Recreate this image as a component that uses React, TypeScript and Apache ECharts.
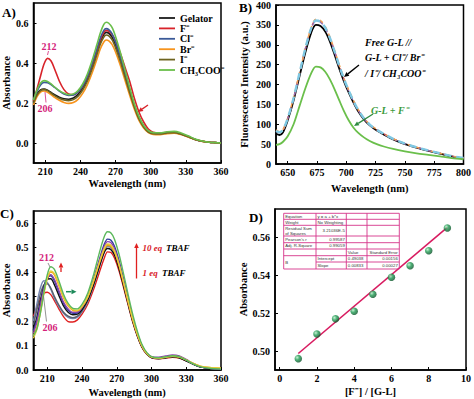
import React, { useEffect, useRef } from 'react';
import * as echarts from 'echarts';

const SERIF = "'Liberation Serif', 'Times New Roman', serif";

// ---------- Panel A: UV-vis, gelator + anions ----------
const wlA = [200, 203, 206, 209, 212, 215, 218, 222, 226, 230, 234, 238, 242, 246, 250, 254, 257, 260, 262, 264, 267, 270, 274, 278, 282, 286, 290, 294, 298, 302, 308, 314, 320, 326, 332, 338, 344, 350, 355, 360];
const aGelator = [0.205, 0.245, 0.266, 0.27, 0.264, 0.253, 0.241, 0.229, 0.221, 0.219, 0.225, 0.243, 0.275, 0.32, 0.38, 0.45, 0.505, 0.543, 0.553, 0.55, 0.53, 0.49, 0.42, 0.34, 0.26, 0.185, 0.125, 0.083, 0.058, 0.048, 0.047, 0.052, 0.053, 0.045, 0.032, 0.018, 0.009, 0.004, 0.002, 0.0];
const aF = [0.21, 0.27, 0.335, 0.395, 0.423, 0.41, 0.37, 0.31, 0.267, 0.245, 0.242, 0.255, 0.285, 0.33, 0.39, 0.46, 0.515, 0.553, 0.563, 0.56, 0.543, 0.51, 0.45, 0.38, 0.31, 0.225, 0.155, 0.105, 0.07, 0.054, 0.05, 0.053, 0.053, 0.045, 0.032, 0.018, 0.009, 0.004, 0.002, 0.0];
const aCl = [0.215, 0.258, 0.29, 0.303, 0.302, 0.292, 0.278, 0.26, 0.245, 0.238, 0.24, 0.255, 0.285, 0.332, 0.395, 0.468, 0.525, 0.563, 0.572, 0.568, 0.547, 0.505, 0.432, 0.35, 0.266, 0.188, 0.127, 0.084, 0.058, 0.048, 0.047, 0.052, 0.053, 0.045, 0.032, 0.018, 0.009, 0.004, 0.002, 0.0];
const aBr = [0.19, 0.232, 0.255, 0.26, 0.254, 0.242, 0.228, 0.214, 0.203, 0.198, 0.202, 0.218, 0.248, 0.292, 0.35, 0.417, 0.47, 0.505, 0.515, 0.512, 0.493, 0.455, 0.39, 0.315, 0.24, 0.17, 0.113, 0.075, 0.052, 0.043, 0.042, 0.047, 0.049, 0.042, 0.03, 0.017, 0.008, 0.004, 0.002, 0.0];
const aI = [0.2, 0.24, 0.262, 0.267, 0.262, 0.25, 0.237, 0.224, 0.215, 0.212, 0.217, 0.234, 0.265, 0.31, 0.37, 0.44, 0.494, 0.53, 0.54, 0.537, 0.517, 0.477, 0.41, 0.332, 0.254, 0.18, 0.12, 0.08, 0.055, 0.046, 0.045, 0.05, 0.052, 0.044, 0.031, 0.018, 0.009, 0.004, 0.002, 0.0];
const aAc = [0.215, 0.265, 0.3, 0.312, 0.308, 0.296, 0.28, 0.262, 0.249, 0.242, 0.245, 0.262, 0.295, 0.345, 0.412, 0.49, 0.55, 0.593, 0.604, 0.6, 0.578, 0.533, 0.455, 0.368, 0.28, 0.198, 0.133, 0.088, 0.062, 0.052, 0.051, 0.056, 0.058, 0.05, 0.036, 0.02, 0.01, 0.004, 0.002, 0.0];
const aNames = ['Gelator', 'F⁻', 'Cl⁻', 'Br⁻', 'I⁻', 'CH₃COO⁻'];
const aColors = ['#1a1a1a', '#d8232a', '#3b5a98', '#f7941d', '#6e6420', '#6abf4b'];
const aSeries = [aGelator, aF, aCl, aBr, aI, aAc];

// ---------- Panel B: fluorescence ----------
const wlB = [640, 643, 646, 650, 655, 660, 665, 670, 674, 678, 682, 686, 690, 694, 698, 702, 706, 710, 715, 720, 726, 732, 740, 750, 760, 770, 780, 790, 800];
const bFree = [76, 73, 80, 110, 160, 220, 280, 330, 350, 347, 333, 308, 275, 240, 208, 180, 155, 133, 112, 97, 84, 74, 62, 50, 41, 33, 26, 19, 14];
const bCl = [84, 80, 86, 115, 166, 228, 290, 342, 362, 359, 344, 318, 284, 248, 214, 185, 159, 136, 115, 99, 86, 76, 63, 51, 42, 34, 27, 20, 15];
const bBr = [82, 79, 85, 114, 165, 227, 289, 340, 360, 357, 342, 316, 282, 246, 213, 184, 158, 136, 114, 99, 86, 75, 63, 51, 42, 34, 27, 20, 15];
const bI = [86, 81, 87, 116, 167, 229, 291, 343, 364, 361, 346, 320, 286, 250, 216, 187, 161, 138, 116, 100, 87, 76, 64, 52, 42, 34, 27, 20, 15];
const bAc = [83, 80, 86, 115, 166, 228, 290, 341, 361, 358, 343, 317, 283, 247, 214, 185, 159, 137, 115, 99, 86, 76, 63, 51, 42, 34, 27, 20, 15];
const bF = [48, 50, 56, 70, 100, 145, 190, 228, 245, 243, 232, 213, 188, 160, 133, 110, 92, 79, 67, 58, 50, 44, 38, 32, 27, 23, 19, 15, 12];

// ---------- Panel C: titration with TBAF ----------
const wlC = [198, 201, 204, 207, 210, 213, 216, 220, 224, 228, 232, 236, 240, 245, 250, 255, 259, 262, 265, 268, 272, 276, 280, 284, 288, 292, 296, 300, 306, 312, 318, 324, 330, 336, 342, 350, 360];
const c1 = [0.22, 0.255, 0.29, 0.313, 0.318, 0.308, 0.285, 0.25, 0.218, 0.198, 0.196, 0.205, 0.228, 0.27, 0.33, 0.4, 0.455, 0.483, 0.48, 0.458, 0.405, 0.335, 0.262, 0.192, 0.135, 0.09, 0.064, 0.05, 0.046, 0.048, 0.052, 0.049, 0.037, 0.024, 0.013, 0.007, 0.004];
const c2 = [0.2, 0.27, 0.335, 0.365, 0.358, 0.33, 0.295, 0.26, 0.232, 0.215, 0.21, 0.216, 0.238, 0.28, 0.345, 0.42, 0.478, 0.505, 0.5, 0.477, 0.42, 0.347, 0.27, 0.198, 0.138, 0.092, 0.065, 0.051, 0.047, 0.05, 0.055, 0.051, 0.038, 0.024, 0.013, 0.007, 0.004];
const c3 = [0.185, 0.245, 0.31, 0.348, 0.352, 0.335, 0.302, 0.265, 0.236, 0.22, 0.214, 0.22, 0.242, 0.285, 0.35, 0.425, 0.485, 0.512, 0.507, 0.484, 0.426, 0.352, 0.274, 0.2, 0.14, 0.093, 0.066, 0.052, 0.047, 0.05, 0.055, 0.051, 0.038, 0.024, 0.013, 0.007, 0.004];
const c4 = [0.165, 0.215, 0.28, 0.34, 0.372, 0.373, 0.35, 0.305, 0.262, 0.236, 0.226, 0.228, 0.247, 0.288, 0.35, 0.425, 0.48, 0.497, 0.492, 0.47, 0.414, 0.342, 0.267, 0.196, 0.137, 0.092, 0.065, 0.051, 0.047, 0.05, 0.054, 0.05, 0.037, 0.024, 0.013, 0.007, 0.004];
const c5 = [0.16, 0.205, 0.27, 0.335, 0.375, 0.385, 0.365, 0.318, 0.272, 0.244, 0.232, 0.234, 0.255, 0.3, 0.37, 0.452, 0.512, 0.535, 0.53, 0.506, 0.446, 0.368, 0.287, 0.21, 0.146, 0.097, 0.068, 0.053, 0.049, 0.053, 0.058, 0.054, 0.04, 0.025, 0.014, 0.007, 0.004];
const c6 = [0.15, 0.195, 0.262, 0.33, 0.375, 0.39, 0.372, 0.325, 0.278, 0.25, 0.236, 0.237, 0.256, 0.3, 0.368, 0.447, 0.503, 0.525, 0.52, 0.496, 0.438, 0.361, 0.282, 0.207, 0.145, 0.097, 0.069, 0.055, 0.052, 0.057, 0.062, 0.058, 0.043, 0.027, 0.015, 0.008, 0.004];
const c7 = [0.14, 0.175, 0.24, 0.315, 0.375, 0.4, 0.39, 0.345, 0.295, 0.262, 0.244, 0.242, 0.258, 0.298, 0.362, 0.437, 0.49, 0.51, 0.505, 0.482, 0.426, 0.352, 0.275, 0.202, 0.142, 0.095, 0.067, 0.053, 0.049, 0.052, 0.056, 0.053, 0.041, 0.027, 0.016, 0.01, 0.007];
const c8 = [0.13, 0.165, 0.232, 0.31, 0.375, 0.405, 0.395, 0.35, 0.3, 0.266, 0.247, 0.244, 0.26, 0.3, 0.365, 0.44, 0.495, 0.515, 0.51, 0.487, 0.43, 0.355, 0.277, 0.204, 0.143, 0.096, 0.067, 0.053, 0.049, 0.052, 0.056, 0.053, 0.041, 0.027, 0.016, 0.01, 0.007];
const c9 = [0.14, 0.168, 0.232, 0.315, 0.39, 0.422, 0.412, 0.365, 0.31, 0.272, 0.252, 0.25, 0.268, 0.315, 0.39, 0.48, 0.543, 0.565, 0.56, 0.535, 0.472, 0.39, 0.304, 0.223, 0.155, 0.102, 0.071, 0.055, 0.05, 0.054, 0.058, 0.054, 0.04, 0.025, 0.014, 0.007, 0.004];
const cSeries = [c1, c2, c3, c4, c5, c6, c7, c8, c9];
const cColors = ['#e02020', '#7585b0', '#5a6270', '#111111', '#2e3a9a', '#8e44ad', '#f39c12', '#e8d03a', '#5cb85c'];

// ---------- Panel D: linear fit ----------
const dRatio = [1, 2, 3, 4, 5, 6, 7, 8, 9];
const dAbs = [0.496, 0.509, 0.517, 0.521, 0.53, 0.539, 0.545, 0.553, 0.565];
const fitIntercept = 0.49038;
const fitSlope = 0.00833;
const tableRows = [
  ['Equation', 'y = a + b*x', '', ''],
  ['Weight', 'No Weighting', '', ''],
  ['Residual Sum\nof Squares', '3.21036E-5', '', ''],
  ["Pearson's r", '0.99587', '', ''],
  ['Adj. R-Square', '0.99059', '', ''],
  ['', '', 'Value', 'Standard Error'],
  ['B', 'Intercept', '0.49038', '0.00156'],
  ['', 'Slope', '0.00833', '0.00027'],
];

const zip = (xs: number[], ys: number[]) => xs.map((x, i) => [x, ys[i]]);

const axisBase = (o: any) => ({
  type: 'value',
  gridIndex: o.grid,
  min: o.min,
  max: o.max,
  name: o.name,
  nameLocation: 'middle',
  nameGap: o.nameGap,
  nameTextStyle: { fontFamily: SERIF, fontWeight: 'bold', fontSize: 10.5, color: '#000' },
  axisLine: { show: true, onZero: false, lineStyle: { color: '#000', width: 1.5 } },
  axisTick: { show: true, inside: true, length: 3, customValues: o.ticks, lineStyle: { color: '#000', width: 1 } },
  axisLabel: {
    customValues: o.ticks,
    color: '#000',
    fontFamily: SERIF,
    fontWeight: 'bold',
    fontSize: 10,
    margin: o.margin ?? 4,
    formatter: o.fmt,
  },
  splitLine: { show: false },
});

function arrow(x1: number, y1: number, x2: number, y2: number, color: string, w = 1.3, hl = 5, hw = 2.3) {
  const dx = x2 - x1, dy = y2 - y1;
  const L = Math.hypot(dx, dy);
  const ux = dx / L, uy = dy / L;
  const bx = x2 - ux * hl, by = y2 - uy * hl;
  const px = -uy, py = ux;
  return [
    { type: 'line', z: 100, silent: true, shape: { x1, y1, x2: bx, y2: by }, style: { stroke: color, lineWidth: w } },
    { type: 'polygon', z: 100, silent: true, shape: { points: [[x2, y2], [bx + px * hw, by + py * hw], [bx - px * hw, by - py * hw]] }, style: { fill: color } },
  ];
}

function txt(text: string, x: number, y: number, o: any = {}) {
  return {
    type: 'text', z: 100, silent: true, x, y,
    style: {
      text,
      fill: o.fill ?? '#000',
      fontSize: o.size ?? 10,
      fontWeight: o.weight ?? 'bold',
      fontStyle: o.style ?? 'normal',
      fontFamily: o.family ?? SERIF,
      align: o.align ?? 'left',
      verticalAlign: 'middle',
      lineHeight: o.lh,
    },
  };
}

function seg(x1: number, y1: number, x2: number, y2: number, color: string, w = 1) {
  return { type: 'line', z: 100, silent: true, shape: { x1, y1, x2, y2 }, style: { stroke: color, lineWidth: w } };
}

function buildTable() {
  const cols = [283.7, 316, 346.3, 367, 399.3];
  const rows = [213.3, 219.3, 225.3, 236, 242.7, 249, 255.7, 262, 269];
  const mag = '#d6348a';
  const els: any[] = [];
  rows.forEach((y, i) => {
    const x0 = i === 7 ? cols[1] : cols[0];
    els.push(seg(x0, y, cols[4], y, mag, 0.9));
  });
  cols.forEach((x) => els.push(seg(x, rows[0], x, rows[8], mag, 0.9)));
  tableRows.forEach((r, i) => {
    const yc = (rows[i] + rows[i + 1]) / 2;
    r.forEach((t, j) => {
      if (!t) return;
      let y = yc;
      if (i === 6 && j === 0) y = rows[7];
      const rightAlign = (j === 1 && i >= 2 && i <= 4) || j === 3;
      const x = rightAlign ? cols[j + 1] - 1.5 : cols[j] + 1.5;
      els.push(txt(t, x, y, { size: 4.3, weight: 'normal', family: 'Arial, Liberation Sans, sans-serif', fill: '#333', align: rightAlign ? 'right' : 'left', lh: 5 }));
    });
  });
  return els;
}

export default function App() {
  const ref = useRef<HTMLDivElement>(null);
  useEffect(() => {
    const chart = echarts.init(ref.current!, null, { renderer: 'svg' });
    const gridStyle = { show: true, borderColor: '#000', borderWidth: 1.5, backgroundColor: 'transparent' };
    const series: any[] = [];
    aSeries.forEach((d, i) => {
      series.push({
        type: 'line', name: aNames[i], xAxisIndex: 0, yAxisIndex: 0, data: zip(wlA, d),
        symbol: 'none', legendIcon: 'rect', smooth: 0.3, lineStyle: { width: 1.6, color: aColors[i] }, itemStyle: { color: aColors[i] },
      });
    });
    const bDef = [
      { d: bFree, c: '#000000', t: 'solid', w: 1.8 },
      { d: bCl, c: '#d9534f', t: [5, 4], w: 1.4 },
      { d: bBr, c: '#8e6fb5', t: [5, 4], w: 1.4 },
      { d: bI, c: '#f0a050', t: [4, 4], w: 1.4 },
      { d: bAc, c: '#7ec8e3', t: [7, 5], w: 2.4 },
      { d: bF, c: '#6abf4b', t: 'solid', w: 1.8 },
    ];
    bDef.forEach((b, i) => {
      series.push({
        type: 'line', name: 'B' + i, xAxisIndex: 1, yAxisIndex: 1, data: zip(wlB, b.d),
        symbol: 'none', smooth: 0.3, lineStyle: { width: b.w, color: b.c, type: b.t }, z: i === 0 ? 1 : 2,
      });
    });
    cSeries.forEach((d, i) => {
      series.push({
        type: 'line', name: 'C' + i, xAxisIndex: 2, yAxisIndex: 2, data: zip(wlC, d),
        symbol: 'none', smooth: 0.3, lineStyle: { width: 1.4, color: cColors[i] },
      });
    });
    series.push({
      type: 'line', name: 'fit', xAxisIndex: 3, yAxisIndex: 3,
      data: [[dRatio[0], fitIntercept + fitSlope * dRatio[0]], [dRatio[dRatio.length - 1], fitIntercept + fitSlope * dRatio[dRatio.length - 1]]],
      symbol: 'none', lineStyle: { width: 1.6, color: '#d81b60' },
    });
    series.push({
      type: 'scatter', name: 'pts', xAxisIndex: 3, yAxisIndex: 3, data: zip(dRatio, dAbs), symbolSize: 7.5, z: 5,
      itemStyle: {
        color: new echarts.graphic.RadialGradient(0.35, 0.35, 0.7, [
          { offset: 0, color: '#b8f0c8' },
          { offset: 0.45, color: '#1f9a52' },
          { offset: 1, color: '#0a4f26' },
        ]),
      },
    });

    const mag = '#d4237a';
    const graphic: any[] = [
      txt('A)', 2, 12, { size: 13 }),
      txt('B)', 239, 7, { size: 13 }),
      txt('C)', 0, 213, { size: 13 }),
      txt('D)', 249, 217, { size: 13 }),
      // panel A annotations
      txt('212', 49, 46, { fill: mag, align: 'center' }),
      seg(48.5, 51, 47.5, 55, mag, 0.8),
      txt('206', 45, 108, { fill: mag, align: 'center' }),
      seg(46, 102.5, 45, 92, mag, 0.8),
      ...arrow(148, 105, 138, 112, '#d8232a'),
      // panel B annotations
      txt('Free G-L //', 365, 42, { style: 'italic' }),
      txt('G-L + Cl⁻/ Br⁻', 365, 57.5, { style: 'italic' }),
      txt('/ I⁻/ CH₃COO⁻', 365, 73, { style: 'italic' }),
      ...arrow(359, 65, 344, 77, '#000'),
      txt('G-L + F⁻', 371, 110, { style: 'italic', fill: '#3a9a3a' }),
      ...arrow(373, 114, 354, 126, '#2e8b40'),
      // panel C annotations
      txt('212', 46.5, 257.5, { fill: mag, align: 'center' }),
      seg(48, 263, 50, 267, '#777', 0.8),
      txt('206', 50, 327, { fill: mag, align: 'center' }),
      seg(46.5, 321.5, 43.5, 296, '#777', 0.8),
      ...arrow(61, 272, 61, 262.5, '#e02020', 1.3, 5, 2.3),
      ...arrow(66, 291.7, 76.5, 291.7, '#1e8a5a', 1.5, 5, 2.5),
      ...arrow(136.5, 278.5, 136.5, 243, '#e02020', 1.3, 5, 2.3),
      txt('10 eq', 142.5, 248, { style: 'italic', fill: '#d81b2a', size: 9 }),
      txt('TBAF', 166, 248, { style: 'italic', size: 9 }),
      txt('1 eq', 142.5, 272.5, { style: 'italic', fill: '#d81b2a', size: 9 }),
      txt('TBAF', 162, 272.5, { style: 'italic', size: 9 }),
      ...buildTable(),
    ];

    const option: any = {
      animation: false,
      backgroundColor: '#fff',
      textStyle: { fontFamily: SERIF },
      grid: [
        { left: 33, top: 3, width: 188, height: 160, ...gridStyle },
        { left: 276, top: 4, width: 190, height: 160, ...gridStyle },
        { left: 30, top: 211, width: 191, height: 161, ...gridStyle },
        { left: 275, top: 209, width: 194, height: 161, ...gridStyle },
      ],
      xAxis: [
        axisBase({ grid: 0, min: 200, max: 360, ticks: [210, 240, 270, 300, 330, 360], name: 'Wavelength (nm)', nameGap: 15, margin: 3 }),
        axisBase({ grid: 1, min: 640, max: 800, ticks: [650, 675, 700, 725, 750, 775, 800], name: 'Wavelength (nm)', nameGap: 19, margin: 3 }),
        axisBase({ grid: 2, min: 198, max: 360, ticks: [210, 240, 270, 300, 330, 360], name: 'Wavelength (nm)', nameGap: 17, margin: 3 }),
        axisBase({ grid: 3, min: -0.25, max: 10, ticks: [0, 2, 4, 6, 8, 10], name: '[F⁻] / [G-L]', nameGap: 16, margin: 3 }),
      ],
      yAxis: [
        axisBase({ grid: 0, min: -0.1, max: 0.7, ticks: [0, 0.2, 0.4, 0.6], name: 'Absorbance', nameGap: 21.5, margin: 5, fmt: (v: number) => v.toFixed(1) }),
        axisBase({ grid: 1, min: 0, max: 400, ticks: [0, 50, 100, 150, 200, 250, 300, 350, 400], name: 'Fluorescence Intensity (a.u.)', nameGap: 26.5, margin: 5 }),
        axisBase({ grid: 2, min: 0, max: 0.65, ticks: [0, 0.1, 0.2, 0.3, 0.4, 0.5, 0.6], name: 'Absorbance', nameGap: 20, margin: 5, fmt: (v: number) => v.toFixed(1) }),
        axisBase({ grid: 3, min: 0.49, max: 0.575, ticks: [0.5, 0.52, 0.54, 0.56], name: 'Absorbance', nameGap: 21, margin: 5, fmt: (v: number) => v.toFixed(2) }),
      ],
      legend: {
        data: aNames,
        orient: 'vertical',
        left: 154,
        top: 8,
        icon: 'rect',
        itemWidth: 16,
        itemHeight: 1.8,
        itemGap: 0.4,
        textStyle: { fontFamily: SERIF, fontWeight: 'bold', fontSize: 10, color: '#000', lineHeight: 10 },
      },
      series,
      graphic,
    };
    chart.setOption(option);
    return () => chart.dispose();
  }, []);
  return <div ref={ref} style={{ position: 'fixed', left: 0, top: 0, width: 474, height: 399, background: '#fff' }} />;
}
